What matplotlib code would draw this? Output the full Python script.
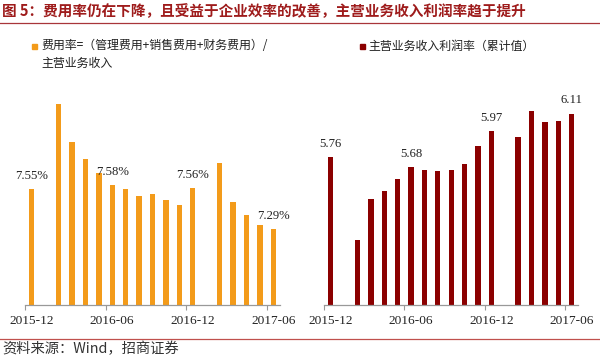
import numpy as np
import matplotlib
matplotlib.use("Agg")
import matplotlib.pyplot as plt
from matplotlib.patches import Rectangle
from matplotlib.lines import Line2D

months = ["2015-12", "2016-01", "2016-02", "2016-03", "2016-04", "2016-05", "2016-06",
          "2016-07", "2016-08", "2016-09", "2016-10", "2016-11", "2016-12",
          "2017-01", "2017-02", "2017-03", "2017-04", "2017-05", "2017-06"]
expense_rate = [7.55, np.nan, 8.11, 7.86, 7.75, 7.66, 7.58,
                7.55, 7.51, 7.52, 7.48, 7.45, 7.56,
                np.nan, 7.72, 7.47, 7.38, 7.32, 7.29]
profit_margin = [5.76, np.nan, 5.10, 5.43, 5.49, 5.59, 5.68,
                 5.66, 5.65, 5.66, 5.71, 5.85, 5.97,
                 np.nan, 5.92, 6.13, 6.04, 6.05, 6.11]
tick_labels = ["2015-12", "2016-06", "2016-12", "2017-06"]
left_labelled = {0: "7.55%", 6: "7.58%", 12: "7.56%", 18: "7.29%"}
right_labelled = {0: "5.76", 6: "5.68", 12: "5.97", 18: "6.11"}

title = "图 5：费用率仍在下降，且受益于企业效率的改善，主营业务收入利润率趋于提升"
left_legend = "费用率=（管理费用+销售费用+财务费用）/\n主营业务收入"
right_legend = "主营业务收入利润率（累计值）"
source = "资料来源：Wind，招商证券"

W, H = 600, 356
fig = plt.figure(figsize=(W / 100, H / 100), dpi=100)
cjk = ["Noto Sans CJK SC", "DejaVu Sans"]
serif = ["Liberation Serif", "DejaVu Serif"]

orange = "#F39B1A"
darkred = "#8B0000"
titlered = "#9E1B1B"

def px_axes(x0, x1, ytop, ybot):
    return fig.add_axes([x0 / W, (H - ybot) / H, (x1 - x0) / W, (ybot - ytop) / H])

def style(ax, values, color, ymin, pxper, labels):
    n = len(values)
    x = np.arange(n) + 0.5
    ax.bar(x, values, width=0.4, color=color, bottom=0, zorder=2)
    ax.set_xlim(0, n)
    ax.set_ylim(ymin, ymin + 225 / pxper)
    major = [months.index(t) for t in tick_labels]
    ax.set_xticks(major)
    ax.set_xticklabels([])
    ax.set_xticks([m + 0.5 for m in major], minor=True)
    ax.set_xticklabels(tick_labels, minor=True, fontfamily=serif, fontsize=9.6, color="#222")
    ax.tick_params(axis="x", which="major", direction="out", length=3.5, width=0.8, color="#999")
    ax.tick_params(axis="x", which="minor", length=0, pad=7)
    ax.set_yticks([])
    for s in ["top", "right", "left"]:
        ax.spines[s].set_visible(False)
    ax.spines["bottom"].set_color("#999")
    ax.spines["bottom"].set_linewidth(0.9)
    ax.patch.set_alpha(0)
    for i, txt in labels.items():
        ax.annotate(txt, (x[i], values[i]), xytext=(0, 9.5), textcoords="offset points",
                    ha="center", va="center", fontfamily=serif, fontsize=9.2, color="#222")

axL = px_axes(25, 280, 80, 305)
style(axL, expense_rate, orange, 6.795, 153, left_labelled)
axR = px_axes(324, 578.4, 80, 305)
style(axR, profit_margin, darkred, 4.578, 125, right_labelled)

# title and rules
fig.text(2 / W, 1 - 11 / H, title, fontfamily=cjk, fontsize=10.5, fontweight="bold",
         color=titlered, ha="left", va="center")
fig.add_artist(Line2D([0, 1], [1 - 23.3 / H, 1 - 23.3 / H], transform=fig.transFigure,
                      color="#A8353A", lw=0.9))
fig.add_artist(Line2D([0, 1], [1 - 339.3 / H, 1 - 339.3 / H], transform=fig.transFigure,
                      color="#C0504D", lw=0.9))
fig.text(2 / W, 1 - 348.5 / H, source, fontfamily=cjk, fontsize=10.3, color="#333",
         ha="left", va="center")

# legends
fig.add_artist(Rectangle((31.5 / W, 1 - 48.5 / H), 5 / W, 5 / H, transform=fig.transFigure,
                         color=orange))
fig.text(41 / W, 1 - 45.7 / H, left_legend.split("\n")[0], fontfamily=cjk, fontsize=8.6,
         color="#222", ha="left", va="center")
fig.text(41 / W, 1 - 63.3 / H, left_legend.split("\n")[1], fontfamily=cjk, fontsize=8.6,
         color="#222", ha="left", va="center")
fig.add_artist(Rectangle((360 / W, 1 - 49 / H), 5 / W, 5 / H, transform=fig.transFigure,
                         color=darkred))
fig.text(368 / W, 1 - 46 / H, right_legend, fontfamily=cjk, fontsize=8.6,
         color="#222", ha="left", va="center")

fig.savefig("out.png", dpi=100)
